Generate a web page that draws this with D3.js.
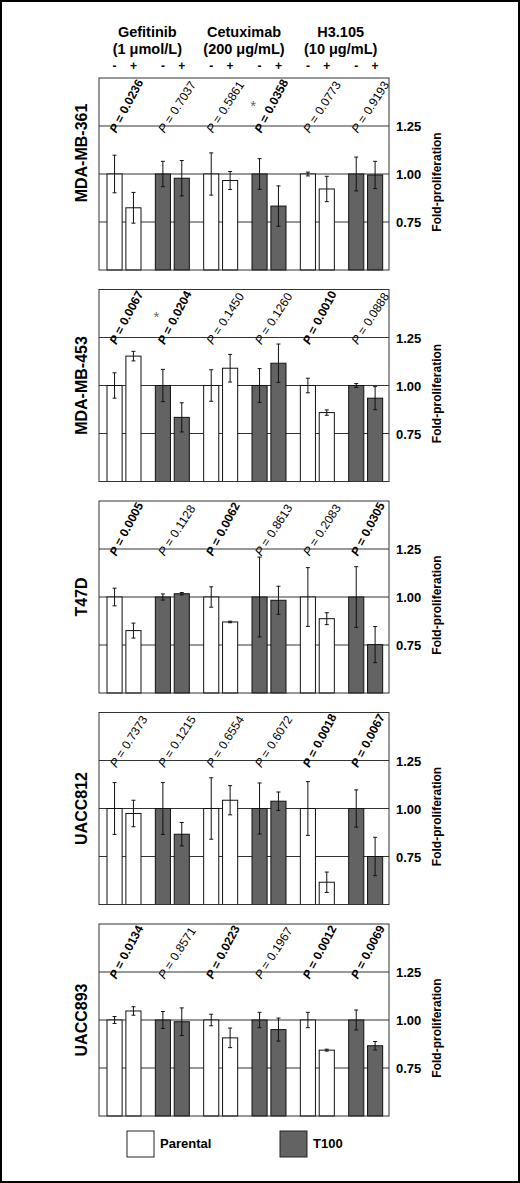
<!DOCTYPE html>
<html>
<head>
<meta charset="utf-8">
<script src="https://cdn.jsdelivr.net/npm/d3@7"></script>
<style>
  body { margin: 0; background: #fff; }
  text { font-family: "Liberation Sans", Arial, sans-serif; }
</style>
</head>
<body>
<svg id="chart"></svg>
<script>
// values
const cellLines = ["MDA-MB-361", "MDA-MB-453", "T47D", "UACC812", "UACC893"];
const treatments = ["Gefitinib", "Cetuximab", "H3.105"];
const doses = ["(1 \u03bcmol/L)", "(200 \u03bcg/mL)", "(10 \u03bcg/mL)"];
const strains = ["Parental", "T100"];
const signs = ["-", "+"];
const yTicks = [0.75, 1.00, 1.25];

// 6 pairs per panel: Gef-Par, Gef-T100, Cet-Par, Cet-T100, H3-Par, H3-T100 (each -, +)
const foldMeans = [
  [1.00, 0.824, 1.00, 0.978, 1.00, 0.966, 1.00, 0.833, 1.00, 0.922, 1.00, 0.995],
  [1.00, 1.153, 1.00, 0.834, 1.00, 1.090, 1.00, 1.116, 1.00, 0.859, 1.00, 0.934],
  [1.00, 0.825, 1.00, 1.017, 1.00, 0.870, 1.00, 0.983, 1.00, 0.887, 1.00, 0.752],
  [1.00, 0.974, 1.00, 0.866, 1.00, 1.043, 1.00, 1.038, 1.00, 0.616, 1.00, 0.750],
  [1.00, 1.047, 1.00, 0.991, 1.00, 0.907, 1.00, 0.950, 1.00, 0.843, 1.00, 0.866]
];
const foldErrors = [
  [0.098, 0.080, 0.066, 0.092, 0.110, 0.047, 0.080, 0.105, 0.010, 0.066, 0.088, 0.071],
  [0.066, 0.025, 0.084, 0.076, 0.082, 0.072, 0.088, 0.100, 0.038, 0.014, 0.010, 0.060],
  [0.046, 0.039, 0.016, 0.006, 0.053, 0.004, 0.208, 0.073, 0.153, 0.031, 0.158, 0.094],
  [0.135, 0.069, 0.135, 0.061, 0.160, 0.076, 0.133, 0.048, 0.140, 0.053, 0.097, 0.100],
  [0.018, 0.022, 0.044, 0.072, 0.030, 0.051, 0.040, 0.060, 0.040, 0.005, 0.052, 0.022]
];
const pValues = [
  ["0.0236", "0.7037", "0.5861", "0.0358", "0.0773", "0.9193"],
  ["0.0067", "0.0204", "0.1450", "0.1260", "0.0010", "0.0888"],
  ["0.0005", "0.1128", "0.0062", "0.8613", "0.2083", "0.0305"],
  ["0.7373", "0.1215", "0.6554", "0.6072", "0.0018", "0.0067"],
  ["0.0134", "0.8571", "0.0223", "0.1967", "0.0012", "0.0069"]
];
// [panel, pair] where an asterisk sits
const asterisks = [[0, 3], [1, 1]];

const W = 520, H = 1183;
const left = 99, right = 389;
const panelTop0 = 78, panelStep = 211.5, panelH = 192;
const grey = "#636363";

const svg = d3.select("#chart").attr("width", W).attr("height", H);

// outer frame
svg.append("rect")
  .attr("x", 1).attr("y", 1).attr("width", W - 2).attr("height", H - 2)
  .attr("fill", "none").attr("stroke", "#000").attr("stroke-width", 2);

const pairs = d3.range(6);
const x = d3.scaleBand().domain(pairs).range([left, right]).padding(0);
const xi = d3.scaleBand().domain(signs).range([8, 42]).paddingInner(0.2);

// header
const head = svg.append("g");
treatments.forEach((t, k) => {
  const cx = (x(2 * k) + x(2 * k + 1) + x.bandwidth()) / 2;
  head.append("text").attr("x", cx).attr("y", 37)
    .attr("text-anchor", "middle").attr("font-size", 14.5).attr("font-weight", "bold")
    .text(t);
  head.append("text").attr("x", cx).attr("y", 54)
    .attr("text-anchor", "middle").attr("font-size", 14.5).attr("font-weight", "bold")
    .text(doses[k]);
});
pairs.forEach(g => {
  signs.forEach(s => {
    head.append("text")
      .attr("x", x(g) + xi(s) + xi.bandwidth() / 2).attr("y", 70)
      .attr("text-anchor", "middle").attr("font-size", 12).attr("font-weight", "bold")
      .text(s);
  });
});

cellLines.forEach((name, i) => {
  const top = panelTop0 + i * panelStep;
  const y = d3.scaleLinear().domain([0.5, 1.5]).range([top + panelH, top]);
  const p = svg.append("g");

  // gridlines
  p.selectAll(".grid").data(yTicks).enter().append("line")
    .attr("x1", left).attr("x2", right)
    .attr("y1", d => y(d)).attr("y2", d => y(d))
    .attr("stroke", "#333").attr("stroke-width", 1);

  // bars
  const bars = foldMeans[i].map((v, j) => ({
    v: v, e: foldErrors[i][j], g: Math.floor(j / 2), s: signs[j % 2]
  }));
  p.selectAll(".bar").data(bars).enter().append("rect")
    .attr("x", d => x(d.g) + xi(d.s))
    .attr("width", xi.bandwidth())
    .attr("y", d => y(d.v))
    .attr("height", d => y(0.5) - y(d.v))
    .attr("fill", d => d.g % 2 ? grey : "#fff")
    .attr("stroke", "#111").attr("stroke-width", 1);

  // error bars
  const eb = p.selectAll(".err").data(bars).enter().append("g")
    .attr("stroke", "#111").attr("stroke-width", 1);
  const cx = d => x(d.g) + xi(d.s) + xi.bandwidth() / 2;
  eb.append("line")
    .attr("x1", cx).attr("x2", cx)
    .attr("y1", d => y(d.v + d.e)).attr("y2", d => y(d.v - d.e));
  eb.append("line")
    .attr("x1", d => cx(d) - 2).attr("x2", d => cx(d) + 2)
    .attr("y1", d => y(d.v + d.e)).attr("y2", d => y(d.v + d.e));
  eb.append("line")
    .attr("x1", d => cx(d) - 2).attr("x2", d => cx(d) + 2)
    .attr("y1", d => y(d.v - d.e)).attr("y2", d => y(d.v - d.e));

  // panel frame
  p.append("rect")
    .attr("x", left).attr("y", top).attr("width", right - left).attr("height", panelH)
    .attr("fill", "none").attr("stroke", "#333").attr("stroke-width", 1);

  // P values
  pValues[i].forEach((pv, g) => {
    const sig = +pv < 0.05;
    const px = x(g) + x.bandwidth() / 2 - 7;
    const t = p.append("text")
      .attr("transform", `translate(${px},${y(1.21)}) rotate(${sig ? -62 : -57})`)
      .attr("font-size", 12)
      .attr("font-weight", sig ? "bold" : "normal")
      .attr("fill", "#000");
    t.append("tspan").attr("font-style", "italic").text("P");
    t.append("tspan").text(" = " + pv);
  });

  // y tick labels
  p.selectAll(".tick").data(yTicks).enter().append("text")
    .attr("x", 396).attr("y", d => y(d) + 5)
    .attr("font-size", 13).attr("font-weight", "bold")
    .text(d => d3.format(".2f")(d));

  p.append("text")
    .attr("transform", `translate(441,${top + panelH / 2 + 8}) rotate(-90)`)
    .attr("text-anchor", "middle").attr("font-size", 12).attr("font-weight", "bold")
    .text("Fold-proliferation");

  const shift = i === 0 ? -21 : 0;
  p.append("text")
    .attr("transform", `translate(87,${top + panelH / 2 + shift}) rotate(-90)`)
    .attr("text-anchor", "middle").attr("font-size", 16).attr("font-weight", "bold")
    .text(name);
});

// asterisks
asterisks.forEach(([i, g]) => {
  const top = panelTop0 + i * panelStep;
  const y = d3.scaleLinear().domain([0.5, 1.5]).range([top + panelH, top]);
  svg.append("text")
    .attr("x", x(g) + x.bandwidth() / 2 - 15).attr("y", y(1.33))
    .attr("text-anchor", "middle").attr("font-size", 15).attr("fill", "#666")
    .text("*");
});

// legend
const legX = [127, 280];
strains.forEach((s, k) => {
  svg.append("rect")
    .attr("x", legX[k]).attr("y", 1131).attr("width", 27).attr("height", 26)
    .attr("fill", k ? grey : "#fff").attr("stroke", "#222").attr("stroke-width", 1);
  svg.append("text")
    .attr("x", legX[k] + 33).attr("y", 1148)
    .attr("font-size", 13).attr("font-weight", "bold")
    .text(s);
});
</script>
</body>
</html>
